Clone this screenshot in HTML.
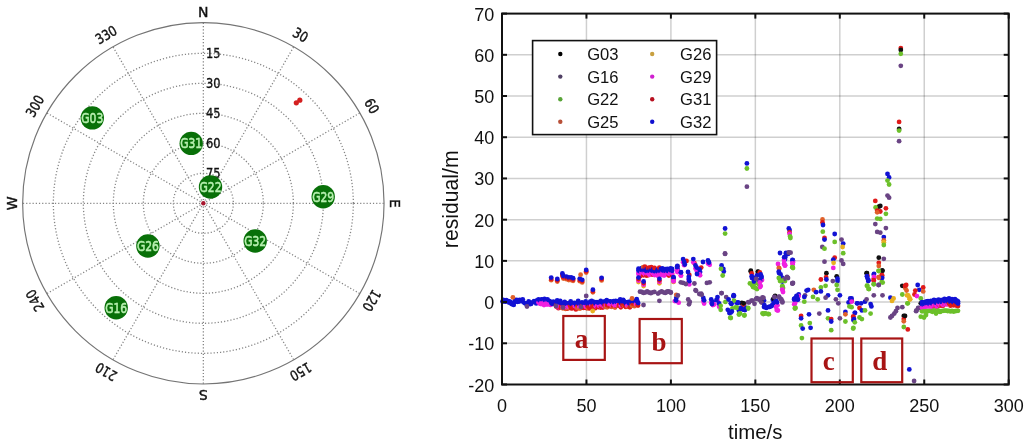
<!DOCTYPE html><html><head><meta charset="utf-8"><style>html,body{margin:0;padding:0;background:#fff;}svg{display:block}</style></head><body>
<svg width="1025" height="442" viewBox="0 0 1025 442">
<rect width="1025" height="442" fill="#fff"/>
<g fill="none" stroke="#858585" stroke-width="1.3" stroke-dasharray="1.2 2">
<circle cx="203.35" cy="203.3" r="30"/>
<circle cx="203.35" cy="203.3" r="60"/>
<circle cx="203.35" cy="203.3" r="90"/>
<circle cx="203.35" cy="203.3" r="120"/>
<circle cx="203.35" cy="203.3" r="150"/>
<line x1="203.35" y1="203.3" x2="203.35" y2="22.60"/>
<line x1="203.35" y1="203.3" x2="293.70" y2="46.81"/>
<line x1="203.35" y1="203.3" x2="359.84" y2="112.95"/>
<line x1="203.35" y1="203.3" x2="384.05" y2="203.30"/>
<line x1="203.35" y1="203.3" x2="359.84" y2="293.65"/>
<line x1="203.35" y1="203.3" x2="293.70" y2="359.79"/>
<line x1="203.35" y1="203.3" x2="203.35" y2="384.00"/>
<line x1="203.35" y1="203.3" x2="113.00" y2="359.79"/>
<line x1="203.35" y1="203.3" x2="46.86" y2="293.65"/>
<line x1="203.35" y1="203.3" x2="22.65" y2="203.30"/>
<line x1="203.35" y1="203.3" x2="46.86" y2="112.95"/>
<line x1="203.35" y1="203.3" x2="113.00" y2="46.81"/>
</g>
<circle cx="203.35" cy="203.3" r="180.7" fill="none" stroke="#747474" stroke-width="1.15"/>
<g font-family="DejaVu Sans, sans-serif" font-size="14" fill="#111" stroke="#111" stroke-width="0.4" text-anchor="middle">
<text x="0" y="4.7" transform="translate(203.35,11.80) rotate(0)">N</text>
<text x="0" y="4.7" textLength="15" lengthAdjust="spacingAndGlyphs" transform="translate(300.45,35.12) rotate(30)">30</text>
<text x="0" y="4.7" textLength="15" lengthAdjust="spacingAndGlyphs" transform="translate(371.53,106.20) rotate(60)">60</text>
<text x="0" y="4.7" transform="translate(394.85,203.30) rotate(90)">E</text>
<text x="0" y="4.7" textLength="22.2" lengthAdjust="spacingAndGlyphs" transform="translate(371.53,300.40) rotate(120)">120</text>
<text x="0" y="4.7" textLength="22.2" lengthAdjust="spacingAndGlyphs" transform="translate(300.45,371.48) rotate(150)">150</text>
<text x="0" y="4.7" transform="translate(203.35,394.80) rotate(180)">S</text>
<text x="0" y="4.7" textLength="22.2" lengthAdjust="spacingAndGlyphs" transform="translate(106.25,371.48) rotate(210)">210</text>
<text x="0" y="4.7" textLength="22.2" lengthAdjust="spacingAndGlyphs" transform="translate(35.17,300.40) rotate(240)">240</text>
<text x="0" y="4.7" transform="translate(11.85,203.30) rotate(270)">W</text>
<text x="0" y="4.7" textLength="22.2" lengthAdjust="spacingAndGlyphs" transform="translate(35.17,106.20) rotate(300)">300</text>
<text x="0" y="4.7" textLength="22.2" lengthAdjust="spacingAndGlyphs" transform="translate(106.25,35.12) rotate(330)">330</text>
</g>
<g font-family="DejaVu Sans, sans-serif" font-size="13.6" fill="#111" stroke="#111" stroke-width="0.35">
<text x="206" y="58.10" textLength="14.5" lengthAdjust="spacingAndGlyphs">15</text>
<text x="206" y="88.10" textLength="14.5" lengthAdjust="spacingAndGlyphs">30</text>
<text x="206" y="118.10" textLength="14.5" lengthAdjust="spacingAndGlyphs">45</text>
<text x="206" y="148.10" textLength="14.5" lengthAdjust="spacingAndGlyphs">60</text>
<text x="206" y="178.10" textLength="14.5" lengthAdjust="spacingAndGlyphs">75</text>
</g>
<circle cx="92.3" cy="117.9" r="11.7" fill="#087008"/>
<circle cx="191.2" cy="143.4" r="11.7" fill="#087008"/>
<circle cx="210.5" cy="187.0" r="11.7" fill="#087008"/>
<circle cx="323.2" cy="196.8" r="11.7" fill="#087008"/>
<circle cx="255.2" cy="241.0" r="11.7" fill="#087008"/>
<circle cx="147.9" cy="246.0" r="11.7" fill="#087008"/>
<circle cx="116.2" cy="307.7" r="11.7" fill="#087008"/>
<g font-family="DejaVu Sans, sans-serif" font-size="14.2" fill="#b8f0b0" stroke="#b8f0b0" stroke-width="0.55" text-anchor="middle">
<text x="92.3" y="122.9" textLength="22" lengthAdjust="spacingAndGlyphs">G03</text>
<text x="191.2" y="148.4" textLength="22" lengthAdjust="spacingAndGlyphs">G31</text>
<text x="210.5" y="192.0" textLength="22" lengthAdjust="spacingAndGlyphs">G22</text>
<text x="323.2" y="201.8" textLength="22" lengthAdjust="spacingAndGlyphs">G29</text>
<text x="255.2" y="246.0" textLength="22" lengthAdjust="spacingAndGlyphs">G32</text>
<text x="147.9" y="251.0" textLength="22" lengthAdjust="spacingAndGlyphs">G26</text>
<text x="116.2" y="312.7" textLength="22" lengthAdjust="spacingAndGlyphs">G16</text>
</g>
<g fill="#d42020"><circle cx="296.3" cy="102.8" r="2.6"/><circle cx="299.8" cy="100.2" r="2.6"/></g>
<circle cx="203.35" cy="203.3" r="2.2" fill="#a81830"/>
<g stroke="#000" stroke-opacity="0.19" stroke-width="1.5">
<line x1="586.45" y1="13.6" x2="586.45" y2="384.5"/>
<line x1="670.90" y1="13.6" x2="670.90" y2="384.5"/>
<line x1="755.35" y1="13.6" x2="755.35" y2="384.5"/>
<line x1="839.80" y1="13.6" x2="839.80" y2="384.5"/>
<line x1="924.25" y1="13.6" x2="924.25" y2="384.5"/>
<line x1="502.0" y1="343.29" x2="1008.7" y2="343.29"/>
<line x1="502.0" y1="302.08" x2="1008.7" y2="302.08"/>
<line x1="502.0" y1="260.87" x2="1008.7" y2="260.87"/>
<line x1="502.0" y1="219.66" x2="1008.7" y2="219.66"/>
<line x1="502.0" y1="178.44" x2="1008.7" y2="178.44"/>
<line x1="502.0" y1="137.23" x2="1008.7" y2="137.23"/>
<line x1="502.0" y1="96.02" x2="1008.7" y2="96.02"/>
<line x1="502.0" y1="54.81" x2="1008.7" y2="54.81"/>
</g>
<g><circle cx="502.5" cy="301.6" r="2.4" fill="#1212d4"/><circle cx="503.2" cy="300.0" r="2.4" fill="#1212d4"/><circle cx="504.0" cy="301.1" r="2.4" fill="#1212d4"/><circle cx="505.5" cy="301.7" r="2.4" fill="#1212d4"/><circle cx="506.2" cy="300.1" r="2.4" fill="#1212d4"/><circle cx="507.0" cy="301.1" r="2.4" fill="#1212d4"/><circle cx="508.5" cy="301.1" r="2.4" fill="#1212d4"/><circle cx="509.2" cy="302.7" r="2.4" fill="#1212d4"/><circle cx="510.0" cy="301.6" r="2.4" fill="#1212d4"/><circle cx="511.5" cy="304.1" r="2.4" fill="#1212d4"/><circle cx="513.0" cy="303.3" r="2.4" fill="#1212d4"/><circle cx="513.7" cy="304.9" r="2.4" fill="#1212d4"/><circle cx="514.5" cy="301.7" r="2.4" fill="#1212d4"/><circle cx="515.2" cy="300.1" r="2.4" fill="#1212d4"/><circle cx="516.0" cy="301.6" r="2.4" fill="#1212d4"/><circle cx="516.7" cy="300.0" r="2.4" fill="#1212d4"/><circle cx="517.5" cy="301.8" r="2.4" fill="#1212d4"/><circle cx="519.0" cy="301.6" r="2.4" fill="#1212d4"/><circle cx="519.7" cy="300.0" r="2.4" fill="#1212d4"/><circle cx="520.5" cy="300.9" r="2.4" fill="#1212d4"/><circle cx="522.0" cy="300.9" r="2.4" fill="#1212d4"/><circle cx="522.7" cy="299.3" r="2.4" fill="#1212d4"/><circle cx="523.5" cy="302.3" r="2.4" fill="#1212d4"/><circle cx="525.0" cy="303.3" r="2.4" fill="#1212d4"/><circle cx="526.5" cy="304.0" r="2.4" fill="#1212d4"/><circle cx="528.0" cy="303.0" r="2.4" fill="#1212d4"/><circle cx="528.7" cy="301.4" r="2.4" fill="#1212d4"/><circle cx="529.5" cy="302.5" r="2.4" fill="#1212d4"/><circle cx="530.2" cy="304.1" r="2.4" fill="#1212d4"/><circle cx="531.0" cy="303.9" r="2.4" fill="#1212d4"/><circle cx="532.5" cy="302.3" r="2.4" fill="#1212d4"/><circle cx="534.0" cy="301.2" r="2.4" fill="#1212d4"/><circle cx="535.5" cy="301.8" r="2.4" fill="#1212d4"/><circle cx="536.2" cy="303.4" r="2.4" fill="#1212d4"/><circle cx="537.0" cy="300.3" r="2.4" fill="#1212d4"/><circle cx="538.5" cy="302.6" r="2.4" fill="#f020e0"/><circle cx="538.5" cy="299.4" r="2.4" fill="#1212d4"/><circle cx="540.0" cy="303.7" r="2.4" fill="#f020e0"/><circle cx="540.0" cy="300.5" r="2.4" fill="#1212d4"/><circle cx="541.5" cy="302.5" r="2.4" fill="#f020e0"/><circle cx="541.5" cy="299.3" r="2.4" fill="#1212d4"/><circle cx="543.0" cy="302.8" r="2.4" fill="#f020e0"/><circle cx="543.0" cy="299.6" r="2.4" fill="#1212d4"/><circle cx="544.5" cy="302.1" r="2.4" fill="#f020e0"/><circle cx="544.5" cy="298.9" r="2.4" fill="#1212d4"/><circle cx="545.2" cy="300.5" r="2.4" fill="#1212d4"/><circle cx="546.0" cy="303.0" r="2.4" fill="#f020e0"/><circle cx="546.0" cy="299.8" r="2.4" fill="#1212d4"/><circle cx="547.5" cy="302.5" r="2.4" fill="#f020e0"/><circle cx="547.5" cy="299.3" r="2.4" fill="#1212d4"/><circle cx="549.0" cy="304.1" r="2.4" fill="#f020e0"/><circle cx="549.0" cy="300.9" r="2.4" fill="#1212d4"/><circle cx="550.5" cy="304.9" r="2.4" fill="#f020e0"/><circle cx="550.5" cy="301.7" r="2.4" fill="#1212d4"/><circle cx="551.2" cy="303.3" r="2.4" fill="#1212d4"/><circle cx="552.0" cy="302.3" r="2.4" fill="#1212d4"/><circle cx="552.7" cy="303.9" r="2.4" fill="#1212d4"/><circle cx="553.5" cy="301.6" r="2.4" fill="#1212d4"/><circle cx="555.0" cy="302.3" r="2.4" fill="#1212d4"/><circle cx="555.7" cy="303.9" r="2.4" fill="#1212d4"/><circle cx="556.2" cy="306.5" r="2.4" fill="#e01a1a"/><circle cx="556.1" cy="305.2" r="2.4" fill="#e01a1a"/><circle cx="556.5" cy="302.0" r="2.4" fill="#1212d4"/><circle cx="557.2" cy="300.4" r="2.4" fill="#1212d4"/><circle cx="558.4" cy="308.2" r="2.4" fill="#e01a1a"/><circle cx="558.5" cy="307.3" r="2.4" fill="#f020e0"/><circle cx="558.0" cy="303.8" r="2.4" fill="#1212d4"/><circle cx="559.2" cy="306.9" r="2.4" fill="#e01a1a"/><circle cx="559.0" cy="306.2" r="2.4" fill="#f020e0"/><circle cx="559.5" cy="302.6" r="2.4" fill="#1212d4"/><circle cx="560.2" cy="301.0" r="2.4" fill="#1212d4"/><circle cx="561.0" cy="307.4" r="2.4" fill="#e01a1a"/><circle cx="561.5" cy="306.1" r="2.4" fill="#e01a1a"/><circle cx="561.0" cy="302.7" r="2.4" fill="#1212d4"/><circle cx="562.7" cy="308.3" r="2.4" fill="#e0602a"/><circle cx="562.8" cy="306.8" r="2.4" fill="#f020e0"/><circle cx="562.5" cy="303.8" r="2.4" fill="#1212d4"/><circle cx="563.9" cy="307.7" r="2.4" fill="#e01a1a"/><circle cx="563.9" cy="306.2" r="2.4" fill="#e01a1a"/><circle cx="564.0" cy="303.5" r="2.4" fill="#1212d4"/><circle cx="564.7" cy="301.9" r="2.4" fill="#1212d4"/><circle cx="565.5" cy="308.9" r="2.4" fill="#e0602a"/><circle cx="565.0" cy="307.4" r="2.4" fill="#e01a1a"/><circle cx="565.5" cy="303.7" r="2.4" fill="#1212d4"/><circle cx="567.5" cy="308.6" r="2.4" fill="#e01a1a"/><circle cx="566.6" cy="307.5" r="2.4" fill="#f020e0"/><circle cx="567.0" cy="303.9" r="2.4" fill="#1212d4"/><circle cx="568.1" cy="308.1" r="2.4" fill="#e0602a"/><circle cx="568.3" cy="306.8" r="2.4" fill="#f020e0"/><circle cx="568.5" cy="303.2" r="2.4" fill="#1212d4"/><circle cx="570.5" cy="307.4" r="2.4" fill="#e0602a"/><circle cx="570.0" cy="305.6" r="2.4" fill="#e01a1a"/><circle cx="570.0" cy="303.0" r="2.4" fill="#1212d4"/><circle cx="570.7" cy="301.4" r="2.4" fill="#1212d4"/><circle cx="571.3" cy="308.4" r="2.4" fill="#e01a1a"/><circle cx="571.4" cy="306.9" r="2.4" fill="#e01a1a"/><circle cx="571.5" cy="304.0" r="2.4" fill="#1212d4"/><circle cx="572.7" cy="308.2" r="2.4" fill="#e01a1a"/><circle cx="573.3" cy="306.8" r="2.4" fill="#e01a1a"/><circle cx="573.0" cy="303.2" r="2.4" fill="#1212d4"/><circle cx="574.5" cy="307.7" r="2.4" fill="#e01a1a"/><circle cx="574.8" cy="306.0" r="2.4" fill="#f020e0"/><circle cx="574.5" cy="302.8" r="2.4" fill="#1212d4"/><circle cx="575.9" cy="309.4" r="2.4" fill="#e01a1a"/><circle cx="576.5" cy="307.3" r="2.4" fill="#f020e0"/><circle cx="576.0" cy="304.2" r="2.4" fill="#1212d4"/><circle cx="576.7" cy="305.8" r="2.4" fill="#1212d4"/><circle cx="577.2" cy="307.4" r="2.4" fill="#e0602a"/><circle cx="577.8" cy="305.8" r="2.4" fill="#e01a1a"/><circle cx="577.5" cy="302.6" r="2.4" fill="#1212d4"/><circle cx="578.2" cy="301.0" r="2.4" fill="#1212d4"/><circle cx="578.6" cy="308.3" r="2.4" fill="#e0602a"/><circle cx="579.3" cy="307.0" r="2.4" fill="#f020e0"/><circle cx="579.0" cy="303.8" r="2.4" fill="#1212d4"/><circle cx="580.1" cy="308.5" r="2.4" fill="#e0602a"/><circle cx="580.4" cy="306.4" r="2.4" fill="#f020e0"/><circle cx="580.5" cy="303.4" r="2.4" fill="#1212d4"/><circle cx="581.6" cy="306.5" r="2.4" fill="#e01a1a"/><circle cx="582.3" cy="305.1" r="2.4" fill="#e01a1a"/><circle cx="582.0" cy="302.4" r="2.4" fill="#1212d4"/><circle cx="583.4" cy="307.9" r="2.4" fill="#e01a1a"/><circle cx="583.0" cy="306.8" r="2.4" fill="#e01a1a"/><circle cx="583.5" cy="303.3" r="2.4" fill="#1212d4"/><circle cx="585.4" cy="307.5" r="2.4" fill="#e01a1a"/><circle cx="585.3" cy="305.8" r="2.4" fill="#f020e0"/><circle cx="585.0" cy="303.0" r="2.4" fill="#1212d4"/><circle cx="585.7" cy="301.4" r="2.4" fill="#1212d4"/><circle cx="586.3" cy="308.0" r="2.4" fill="#e01a1a"/><circle cx="586.1" cy="306.9" r="2.4" fill="#f020e0"/><circle cx="586.5" cy="303.4" r="2.4" fill="#1212d4"/><circle cx="588.0" cy="308.4" r="2.4" fill="#e0602a"/><circle cx="587.6" cy="306.2" r="2.4" fill="#e01a1a"/><circle cx="588.0" cy="303.4" r="2.4" fill="#1212d4"/><circle cx="588.7" cy="305.0" r="2.4" fill="#1212d4"/><circle cx="589.6" cy="308.3" r="2.4" fill="#e01a1a"/><circle cx="589.2" cy="306.5" r="2.4" fill="#e01a1a"/><circle cx="589.5" cy="303.3" r="2.4" fill="#1212d4"/><circle cx="590.2" cy="301.7" r="2.4" fill="#1212d4"/><circle cx="591.0" cy="307.0" r="2.4" fill="#e01a1a"/><circle cx="591.4" cy="305.0" r="2.4" fill="#f020e0"/><circle cx="591.0" cy="302.4" r="2.4" fill="#1212d4"/><circle cx="591.7" cy="300.8" r="2.4" fill="#1212d4"/><circle cx="592.6" cy="307.6" r="2.4" fill="#e01a1a"/><circle cx="592.4" cy="306.0" r="2.4" fill="#e01a1a"/><circle cx="592.5" cy="302.7" r="2.4" fill="#1212d4"/><circle cx="593.8" cy="306.7" r="2.4" fill="#e01a1a"/><circle cx="594.0" cy="304.9" r="2.4" fill="#e01a1a"/><circle cx="594.0" cy="302.0" r="2.4" fill="#1212d4"/><circle cx="595.3" cy="308.2" r="2.4" fill="#e01a1a"/><circle cx="595.8" cy="306.3" r="2.4" fill="#f020e0"/><circle cx="595.5" cy="303.5" r="2.4" fill="#1212d4"/><circle cx="597.2" cy="306.7" r="2.4" fill="#e01a1a"/><circle cx="597.2" cy="305.7" r="2.4" fill="#f020e0"/><circle cx="597.0" cy="302.2" r="2.4" fill="#1212d4"/><circle cx="598.4" cy="307.1" r="2.4" fill="#e01a1a"/><circle cx="599.0" cy="305.7" r="2.4" fill="#f020e0"/><circle cx="598.5" cy="302.8" r="2.4" fill="#1212d4"/><circle cx="600.5" cy="307.5" r="2.4" fill="#e01a1a"/><circle cx="600.2" cy="306.3" r="2.4" fill="#f020e0"/><circle cx="600.0" cy="302.5" r="2.4" fill="#1212d4"/><circle cx="600.7" cy="300.9" r="2.4" fill="#1212d4"/><circle cx="601.1" cy="306.6" r="2.4" fill="#e01a1a"/><circle cx="601.6" cy="305.3" r="2.4" fill="#f020e0"/><circle cx="601.5" cy="302.2" r="2.4" fill="#1212d4"/><circle cx="602.8" cy="307.6" r="2.4" fill="#e01a1a"/><circle cx="603.5" cy="306.0" r="2.4" fill="#f020e0"/><circle cx="603.0" cy="302.4" r="2.4" fill="#1212d4"/><circle cx="603.7" cy="304.0" r="2.4" fill="#1212d4"/><circle cx="604.8" cy="305.8" r="2.4" fill="#e01a1a"/><circle cx="604.8" cy="305.1" r="2.4" fill="#e01a1a"/><circle cx="604.5" cy="301.4" r="2.4" fill="#1212d4"/><circle cx="605.6" cy="306.9" r="2.4" fill="#e0602a"/><circle cx="606.0" cy="304.8" r="2.4" fill="#f020e0"/><circle cx="606.0" cy="301.8" r="2.4" fill="#1212d4"/><circle cx="606.7" cy="300.2" r="2.4" fill="#1212d4"/><circle cx="607.1" cy="307.3" r="2.4" fill="#e0602a"/><circle cx="607.1" cy="305.0" r="2.4" fill="#e01a1a"/><circle cx="607.5" cy="302.1" r="2.4" fill="#1212d4"/><circle cx="609.4" cy="305.9" r="2.4" fill="#e01a1a"/><circle cx="609.5" cy="304.5" r="2.4" fill="#f020e0"/><circle cx="609.0" cy="301.4" r="2.4" fill="#1212d4"/><circle cx="610.7" cy="306.4" r="2.4" fill="#e01a1a"/><circle cx="610.3" cy="304.1" r="2.4" fill="#f020e0"/><circle cx="610.5" cy="301.3" r="2.4" fill="#1212d4"/><circle cx="611.7" cy="306.8" r="2.4" fill="#e0602a"/><circle cx="611.7" cy="305.2" r="2.4" fill="#f020e0"/><circle cx="612.0" cy="302.2" r="2.4" fill="#1212d4"/><circle cx="613.0" cy="305.8" r="2.4" fill="#e01a1a"/><circle cx="613.5" cy="304.1" r="2.4" fill="#f020e0"/><circle cx="613.5" cy="301.2" r="2.4" fill="#1212d4"/><circle cx="614.2" cy="302.8" r="2.4" fill="#1212d4"/><circle cx="615.0" cy="307.5" r="2.4" fill="#e0602a"/><circle cx="614.8" cy="305.3" r="2.4" fill="#f020e0"/><circle cx="615.0" cy="302.4" r="2.4" fill="#1212d4"/><circle cx="615.7" cy="300.8" r="2.4" fill="#1212d4"/><circle cx="616.3" cy="305.9" r="2.4" fill="#e01a1a"/><circle cx="616.0" cy="305.2" r="2.4" fill="#f020e0"/><circle cx="616.5" cy="301.9" r="2.4" fill="#1212d4"/><circle cx="618.2" cy="305.6" r="2.4" fill="#e0602a"/><circle cx="618.2" cy="304.1" r="2.4" fill="#f020e0"/><circle cx="618.0" cy="301.2" r="2.4" fill="#1212d4"/><circle cx="619.2" cy="305.4" r="2.4" fill="#e01a1a"/><circle cx="619.3" cy="304.9" r="2.4" fill="#e01a1a"/><circle cx="619.5" cy="301.1" r="2.4" fill="#1212d4"/><circle cx="620.2" cy="299.5" r="2.4" fill="#1212d4"/><circle cx="620.8" cy="307.3" r="2.4" fill="#e01a1a"/><circle cx="620.8" cy="305.6" r="2.4" fill="#f020e0"/><circle cx="621.0" cy="302.9" r="2.4" fill="#1212d4"/><circle cx="622.5" cy="305.4" r="2.4" fill="#e01a1a"/><circle cx="622.8" cy="304.1" r="2.4" fill="#e01a1a"/><circle cx="622.5" cy="301.4" r="2.4" fill="#1212d4"/><circle cx="623.2" cy="299.8" r="2.4" fill="#1212d4"/><circle cx="624.1" cy="305.6" r="2.4" fill="#e0602a"/><circle cx="624.4" cy="304.3" r="2.4" fill="#e01a1a"/><circle cx="624.0" cy="301.5" r="2.4" fill="#1212d4"/><circle cx="625.8" cy="306.9" r="2.4" fill="#e01a1a"/><circle cx="625.1" cy="305.6" r="2.4" fill="#e01a1a"/><circle cx="625.5" cy="302.1" r="2.4" fill="#1212d4"/><circle cx="626.2" cy="303.7" r="2.4" fill="#1212d4"/><circle cx="627.3" cy="306.5" r="2.4" fill="#e0602a"/><circle cx="627.3" cy="305.6" r="2.4" fill="#f020e0"/><circle cx="627.0" cy="302.3" r="2.4" fill="#1212d4"/><circle cx="628.9" cy="306.8" r="2.4" fill="#e0602a"/><circle cx="628.6" cy="304.7" r="2.4" fill="#f020e0"/><circle cx="628.5" cy="302.0" r="2.4" fill="#1212d4"/><circle cx="629.2" cy="303.6" r="2.4" fill="#1212d4"/><circle cx="629.9" cy="307.3" r="2.4" fill="#e01a1a"/><circle cx="630.1" cy="306.1" r="2.4" fill="#e01a1a"/><circle cx="630.0" cy="302.7" r="2.4" fill="#1212d4"/><circle cx="630.7" cy="304.3" r="2.4" fill="#1212d4"/><circle cx="631.8" cy="305.6" r="2.4" fill="#e0602a"/><circle cx="631.9" cy="303.5" r="2.4" fill="#e01a1a"/><circle cx="631.5" cy="300.7" r="2.4" fill="#1212d4"/><circle cx="632.2" cy="302.3" r="2.4" fill="#1212d4"/><circle cx="632.6" cy="305.5" r="2.4" fill="#e0602a"/><circle cx="633.3" cy="304.1" r="2.4" fill="#e01a1a"/><circle cx="633.0" cy="301.2" r="2.4" fill="#1212d4"/><circle cx="634.4" cy="306.2" r="2.4" fill="#e0602a"/><circle cx="634.3" cy="304.3" r="2.4" fill="#e01a1a"/><circle cx="634.5" cy="301.6" r="2.4" fill="#1212d4"/><circle cx="635.6" cy="305.0" r="2.4" fill="#e0602a"/><circle cx="636.2" cy="304.0" r="2.4" fill="#f020e0"/><circle cx="636.0" cy="300.7" r="2.4" fill="#1212d4"/><circle cx="636.7" cy="299.1" r="2.4" fill="#1212d4"/><circle cx="638.0" cy="305.6" r="2.4" fill="#e01a1a"/><circle cx="637.7" cy="304.4" r="2.4" fill="#e01a1a"/><circle cx="637.5" cy="301.5" r="2.4" fill="#1212d4"/><circle cx="638.2" cy="303.1" r="2.4" fill="#1212d4"/><circle cx="512.9" cy="297.3" r="2.4" fill="#e0602a"/><circle cx="541.0" cy="304.0" r="2.4" fill="#f020e0"/><circle cx="544.0" cy="305.0" r="2.4" fill="#f020e0"/><circle cx="547.0" cy="304.5" r="2.4" fill="#f020e0"/><circle cx="563.0" cy="307.5" r="2.4" fill="#6a4484"/><circle cx="581.0" cy="307.0" r="2.4" fill="#6a4484"/><circle cx="556.0" cy="306.0" r="2.4" fill="#6a4484"/><circle cx="527.0" cy="306.5" r="2.4" fill="#6a4484"/><circle cx="632.0" cy="298.5" r="2.4" fill="#e0602a"/><circle cx="551.2" cy="280.2" r="2.4" fill="#e0602a"/><circle cx="551.2" cy="278.9" r="2.4" fill="#e01a1a"/><circle cx="551.2" cy="277.6" r="2.4" fill="#1212d4"/><circle cx="557.3" cy="281.6" r="2.4" fill="#e0602a"/><circle cx="557.3" cy="280.3" r="2.4" fill="#e01a1a"/><circle cx="557.3" cy="279.0" r="2.4" fill="#1212d4"/><circle cx="562.4" cy="276.1" r="2.4" fill="#e0602a"/><circle cx="562.4" cy="274.8" r="2.4" fill="#e01a1a"/><circle cx="562.4" cy="273.5" r="2.4" fill="#1212d4"/><circle cx="563.4" cy="278.5" r="2.4" fill="#e0602a"/><circle cx="563.4" cy="277.2" r="2.4" fill="#e01a1a"/><circle cx="563.4" cy="275.9" r="2.4" fill="#1212d4"/><circle cx="566.4" cy="279.2" r="2.4" fill="#e0602a"/><circle cx="566.4" cy="277.9" r="2.4" fill="#e01a1a"/><circle cx="566.4" cy="276.6" r="2.4" fill="#1212d4"/><circle cx="568.8" cy="280.0" r="2.4" fill="#e0602a"/><circle cx="568.8" cy="278.7" r="2.4" fill="#e01a1a"/><circle cx="568.8" cy="277.4" r="2.4" fill="#1212d4"/><circle cx="571.1" cy="280.0" r="2.4" fill="#e0602a"/><circle cx="571.1" cy="278.7" r="2.4" fill="#e01a1a"/><circle cx="571.1" cy="277.4" r="2.4" fill="#1212d4"/><circle cx="573.1" cy="280.8" r="2.4" fill="#e0602a"/><circle cx="573.1" cy="279.5" r="2.4" fill="#e01a1a"/><circle cx="573.1" cy="278.2" r="2.4" fill="#1212d4"/><circle cx="579.8" cy="281.2" r="2.4" fill="#e0602a"/><circle cx="579.8" cy="279.9" r="2.4" fill="#e01a1a"/><circle cx="579.8" cy="278.6" r="2.4" fill="#1212d4"/><circle cx="582.2" cy="282.4" r="2.4" fill="#e0602a"/><circle cx="582.2" cy="281.1" r="2.4" fill="#e01a1a"/><circle cx="582.2" cy="279.8" r="2.4" fill="#1212d4"/><circle cx="586.2" cy="272.5" r="2.4" fill="#e0602a"/><circle cx="586.2" cy="271.2" r="2.4" fill="#e01a1a"/><circle cx="586.2" cy="269.9" r="2.4" fill="#1212d4"/><circle cx="601.6" cy="280.4" r="2.4" fill="#e0602a"/><circle cx="601.6" cy="279.1" r="2.4" fill="#e01a1a"/><circle cx="601.6" cy="277.8" r="2.4" fill="#1212d4"/><circle cx="592.9" cy="292.3" r="2.4" fill="#e0602a"/><circle cx="592.9" cy="291.0" r="2.4" fill="#e01a1a"/><circle cx="592.9" cy="289.7" r="2.4" fill="#1212d4"/><circle cx="580.6" cy="274.7" r="2.4" fill="#e0602a"/><circle cx="586.2" cy="296.0" r="2.4" fill="#6a4484"/><circle cx="592.7" cy="311.0" r="2.4" fill="#e8b020"/><circle cx="638.5" cy="274.1" r="2.4" fill="#f020e0"/><circle cx="638.5" cy="272.9" r="2.4" fill="#f020e0"/><circle cx="638.5" cy="270.5" r="2.4" fill="#1212d4"/><circle cx="638.5" cy="268.7" r="2.4" fill="#1212d4"/><circle cx="640.1" cy="276.3" r="2.4" fill="#e01a1a"/><circle cx="640.1" cy="273.8" r="2.4" fill="#f020e0"/><circle cx="640.1" cy="271.4" r="2.4" fill="#1212d4"/><circle cx="640.1" cy="269.6" r="2.4" fill="#1212d4"/><circle cx="641.7" cy="274.1" r="2.4" fill="#f020e0"/><circle cx="641.7" cy="272.3" r="2.4" fill="#f020e0"/><circle cx="641.7" cy="269.9" r="2.4" fill="#1212d4"/><circle cx="641.7" cy="268.1" r="2.4" fill="#1212d4"/><circle cx="643.3" cy="275.3" r="2.4" fill="#e01a1a"/><circle cx="643.3" cy="272.8" r="2.4" fill="#f020e0"/><circle cx="643.3" cy="270.4" r="2.4" fill="#1212d4"/><circle cx="643.3" cy="268.6" r="2.4" fill="#1212d4"/><circle cx="643.3" cy="267.1" r="2.4" fill="#e0602a"/><circle cx="644.9" cy="274.3" r="2.4" fill="#f020e0"/><circle cx="644.9" cy="272.4" r="2.4" fill="#f020e0"/><circle cx="644.9" cy="270.0" r="2.4" fill="#1212d4"/><circle cx="644.9" cy="268.2" r="2.4" fill="#1212d4"/><circle cx="644.9" cy="266.7" r="2.4" fill="#e01a1a"/><circle cx="646.5" cy="275.7" r="2.4" fill="#e01a1a"/><circle cx="646.5" cy="273.6" r="2.4" fill="#f020e0"/><circle cx="646.5" cy="271.2" r="2.4" fill="#1212d4"/><circle cx="646.5" cy="269.4" r="2.4" fill="#1212d4"/><circle cx="648.1" cy="275.2" r="2.4" fill="#e01a1a"/><circle cx="648.1" cy="273.6" r="2.4" fill="#f020e0"/><circle cx="648.1" cy="271.2" r="2.4" fill="#1212d4"/><circle cx="648.1" cy="269.4" r="2.4" fill="#1212d4"/><circle cx="648.1" cy="267.9" r="2.4" fill="#e01a1a"/><circle cx="649.7" cy="274.9" r="2.4" fill="#f020e0"/><circle cx="649.7" cy="273.3" r="2.4" fill="#f020e0"/><circle cx="649.7" cy="270.9" r="2.4" fill="#1212d4"/><circle cx="649.7" cy="269.1" r="2.4" fill="#1212d4"/><circle cx="649.7" cy="267.6" r="2.4" fill="#e01a1a"/><circle cx="651.3" cy="274.0" r="2.4" fill="#f020e0"/><circle cx="651.3" cy="272.8" r="2.4" fill="#f020e0"/><circle cx="651.3" cy="270.4" r="2.4" fill="#1212d4"/><circle cx="651.3" cy="268.6" r="2.4" fill="#1212d4"/><circle cx="651.3" cy="267.1" r="2.4" fill="#e01a1a"/><circle cx="652.9" cy="274.7" r="2.4" fill="#e01a1a"/><circle cx="652.9" cy="273.5" r="2.4" fill="#f020e0"/><circle cx="652.9" cy="271.1" r="2.4" fill="#1212d4"/><circle cx="652.9" cy="269.3" r="2.4" fill="#1212d4"/><circle cx="654.5" cy="275.1" r="2.4" fill="#f020e0"/><circle cx="654.5" cy="273.6" r="2.4" fill="#f020e0"/><circle cx="654.5" cy="271.2" r="2.4" fill="#1212d4"/><circle cx="654.5" cy="269.4" r="2.4" fill="#1212d4"/><circle cx="654.5" cy="267.9" r="2.4" fill="#e01a1a"/><circle cx="657.7" cy="275.7" r="2.4" fill="#f020e0"/><circle cx="657.7" cy="273.8" r="2.4" fill="#f020e0"/><circle cx="657.7" cy="271.4" r="2.4" fill="#1212d4"/><circle cx="657.7" cy="269.6" r="2.4" fill="#1212d4"/><circle cx="659.3" cy="275.8" r="2.4" fill="#f020e0"/><circle cx="659.3" cy="273.4" r="2.4" fill="#f020e0"/><circle cx="659.3" cy="271.0" r="2.4" fill="#1212d4"/><circle cx="659.3" cy="269.2" r="2.4" fill="#1212d4"/><circle cx="659.3" cy="267.7" r="2.4" fill="#e01a1a"/><circle cx="660.9" cy="274.5" r="2.4" fill="#f020e0"/><circle cx="660.9" cy="273.2" r="2.4" fill="#f020e0"/><circle cx="660.9" cy="270.8" r="2.4" fill="#1212d4"/><circle cx="660.9" cy="269.0" r="2.4" fill="#1212d4"/><circle cx="662.5" cy="274.9" r="2.4" fill="#f020e0"/><circle cx="662.5" cy="272.7" r="2.4" fill="#f020e0"/><circle cx="662.5" cy="270.3" r="2.4" fill="#1212d4"/><circle cx="662.5" cy="268.5" r="2.4" fill="#1212d4"/><circle cx="664.1" cy="275.5" r="2.4" fill="#f020e0"/><circle cx="664.1" cy="273.5" r="2.4" fill="#f020e0"/><circle cx="664.1" cy="271.1" r="2.4" fill="#1212d4"/><circle cx="664.1" cy="269.3" r="2.4" fill="#1212d4"/><circle cx="665.7" cy="274.4" r="2.4" fill="#f020e0"/><circle cx="665.7" cy="273.4" r="2.4" fill="#f020e0"/><circle cx="665.7" cy="271.0" r="2.4" fill="#1212d4"/><circle cx="665.7" cy="269.2" r="2.4" fill="#1212d4"/><circle cx="667.3" cy="274.4" r="2.4" fill="#f020e0"/><circle cx="667.3" cy="273.2" r="2.4" fill="#f020e0"/><circle cx="667.3" cy="270.8" r="2.4" fill="#1212d4"/><circle cx="667.3" cy="269.0" r="2.4" fill="#1212d4"/><circle cx="668.9" cy="275.5" r="2.4" fill="#e01a1a"/><circle cx="668.9" cy="273.7" r="2.4" fill="#f020e0"/><circle cx="668.9" cy="271.3" r="2.4" fill="#1212d4"/><circle cx="668.9" cy="269.5" r="2.4" fill="#1212d4"/><circle cx="670.5" cy="274.2" r="2.4" fill="#f020e0"/><circle cx="670.5" cy="272.7" r="2.4" fill="#f020e0"/><circle cx="670.5" cy="270.3" r="2.4" fill="#1212d4"/><circle cx="670.5" cy="268.5" r="2.4" fill="#1212d4"/><circle cx="672.1" cy="274.9" r="2.4" fill="#e01a1a"/><circle cx="672.1" cy="273.2" r="2.4" fill="#f020e0"/><circle cx="672.1" cy="270.8" r="2.4" fill="#1212d4"/><circle cx="672.1" cy="269.0" r="2.4" fill="#1212d4"/><circle cx="638.5" cy="282.1" r="2.4" fill="#e8b020"/><circle cx="638.5" cy="280.6" r="2.4" fill="#f020e0"/><circle cx="638.5" cy="279.1" r="2.4" fill="#e01a1a"/><circle cx="638.5" cy="277.6" r="2.4" fill="#1212d4"/><circle cx="643.6" cy="286.0" r="2.4" fill="#e8b020"/><circle cx="643.6" cy="284.5" r="2.4" fill="#f020e0"/><circle cx="643.6" cy="283.0" r="2.4" fill="#e01a1a"/><circle cx="643.6" cy="281.5" r="2.4" fill="#1212d4"/><circle cx="659.4" cy="283.3" r="2.4" fill="#e8b020"/><circle cx="659.4" cy="281.8" r="2.4" fill="#f020e0"/><circle cx="659.4" cy="280.3" r="2.4" fill="#e01a1a"/><circle cx="659.4" cy="278.8" r="2.4" fill="#1212d4"/><circle cx="673.5" cy="281.9" r="2.4" fill="#e8b020"/><circle cx="673.5" cy="280.4" r="2.4" fill="#f020e0"/><circle cx="673.5" cy="278.9" r="2.4" fill="#e01a1a"/><circle cx="673.5" cy="277.4" r="2.4" fill="#1212d4"/><circle cx="640.0" cy="291.7" r="2.4" fill="#6a4484"/><circle cx="641.8" cy="292.0" r="2.4" fill="#6a4484"/><circle cx="643.6" cy="292.9" r="2.4" fill="#6a4484"/><circle cx="645.4" cy="292.4" r="2.4" fill="#6a4484"/><circle cx="647.2" cy="291.4" r="2.4" fill="#6a4484"/><circle cx="649.0" cy="292.5" r="2.4" fill="#6a4484"/><circle cx="650.8" cy="293.2" r="2.4" fill="#6a4484"/><circle cx="652.6" cy="292.3" r="2.4" fill="#6a4484"/><circle cx="654.4" cy="291.9" r="2.4" fill="#6a4484"/><circle cx="658.0" cy="293.6" r="2.4" fill="#6a4484"/><circle cx="659.8" cy="292.3" r="2.4" fill="#6a4484"/><circle cx="661.6" cy="291.3" r="2.4" fill="#6a4484"/><circle cx="663.4" cy="292.3" r="2.4" fill="#6a4484"/><circle cx="665.2" cy="292.9" r="2.4" fill="#6a4484"/><circle cx="667.0" cy="292.1" r="2.4" fill="#6a4484"/><circle cx="668.8" cy="291.3" r="2.4" fill="#6a4484"/><circle cx="670.6" cy="292.5" r="2.4" fill="#6a4484"/><circle cx="643.5" cy="305.0" r="2.4" fill="#6a4484"/><circle cx="659.4" cy="300.8" r="2.4" fill="#6a4484"/><circle cx="667.3" cy="291.4" r="2.4" fill="#6a4484"/><circle cx="686.5" cy="261.0" r="2.4" fill="#e01a1a"/><circle cx="694.4" cy="263.1" r="2.4" fill="#e01a1a"/><circle cx="701.2" cy="267.6" r="2.4" fill="#e01a1a"/><circle cx="689.3" cy="275.0" r="2.4" fill="#e01a1a"/><circle cx="677.4" cy="266.5" r="2.4" fill="#e01a1a"/><circle cx="677.4" cy="269.2" r="2.4" fill="#f020e0"/><circle cx="677.4" cy="266.0" r="2.4" fill="#1212d4"/><circle cx="677.4" cy="272.0" r="2.4" fill="#f020e0"/><circle cx="677.4" cy="268.8" r="2.4" fill="#1212d4"/><circle cx="680.8" cy="275.3" r="2.4" fill="#f020e0"/><circle cx="680.8" cy="272.1" r="2.4" fill="#1212d4"/><circle cx="683.1" cy="262.3" r="2.4" fill="#f020e0"/><circle cx="683.1" cy="259.1" r="2.4" fill="#1212d4"/><circle cx="684.2" cy="265.2" r="2.4" fill="#f020e0"/><circle cx="684.2" cy="262.0" r="2.4" fill="#1212d4"/><circle cx="693.3" cy="262.3" r="2.4" fill="#f020e0"/><circle cx="693.3" cy="259.1" r="2.4" fill="#1212d4"/><circle cx="695.5" cy="268.6" r="2.4" fill="#f020e0"/><circle cx="695.5" cy="265.4" r="2.4" fill="#1212d4"/><circle cx="696.7" cy="270.8" r="2.4" fill="#f020e0"/><circle cx="696.7" cy="267.6" r="2.4" fill="#1212d4"/><circle cx="699.5" cy="272.5" r="2.4" fill="#f020e0"/><circle cx="699.5" cy="269.3" r="2.4" fill="#1212d4"/><circle cx="700.1" cy="275.3" r="2.4" fill="#f020e0"/><circle cx="700.1" cy="272.1" r="2.4" fill="#1212d4"/><circle cx="708.0" cy="263.5" r="2.4" fill="#f020e0"/><circle cx="708.0" cy="260.3" r="2.4" fill="#1212d4"/><circle cx="688.8" cy="279.9" r="2.4" fill="#f020e0"/><circle cx="688.8" cy="276.7" r="2.4" fill="#1212d4"/><circle cx="688.8" cy="282.1" r="2.4" fill="#f020e0"/><circle cx="688.8" cy="278.9" r="2.4" fill="#1212d4"/><circle cx="689.3" cy="284.4" r="2.4" fill="#f020e0"/><circle cx="689.3" cy="281.2" r="2.4" fill="#1212d4"/><circle cx="673.5" cy="280.7" r="2.4" fill="#f020e0"/><circle cx="673.5" cy="277.5" r="2.4" fill="#1212d4"/><circle cx="676.3" cy="301.1" r="2.4" fill="#f020e0"/><circle cx="676.3" cy="297.9" r="2.4" fill="#1212d4"/><circle cx="703.3" cy="301.1" r="2.4" fill="#f020e0"/><circle cx="703.3" cy="297.9" r="2.4" fill="#1212d4"/><circle cx="704.1" cy="303.5" r="2.4" fill="#f020e0"/><circle cx="704.1" cy="300.3" r="2.4" fill="#1212d4"/><circle cx="711.2" cy="302.7" r="2.4" fill="#f020e0"/><circle cx="711.2" cy="299.5" r="2.4" fill="#1212d4"/><circle cx="712.8" cy="305.1" r="2.4" fill="#f020e0"/><circle cx="712.8" cy="301.9" r="2.4" fill="#1212d4"/><circle cx="717.5" cy="300.3" r="2.4" fill="#f020e0"/><circle cx="717.5" cy="297.1" r="2.4" fill="#1212d4"/><circle cx="719.1" cy="306.7" r="2.4" fill="#f020e0"/><circle cx="719.1" cy="303.5" r="2.4" fill="#1212d4"/><circle cx="677.0" cy="270.2" r="2.4" fill="#f020e0"/><circle cx="677.0" cy="267.0" r="2.4" fill="#1212d4"/><circle cx="681.0" cy="275.7" r="2.4" fill="#f020e0"/><circle cx="681.0" cy="272.5" r="2.4" fill="#1212d4"/><circle cx="676.3" cy="294.8" r="2.4" fill="#e0602a"/><circle cx="673.5" cy="281.3" r="2.4" fill="#f020e0"/><circle cx="674.8" cy="301.1" r="2.4" fill="#f020e0"/><circle cx="678.7" cy="302.7" r="2.4" fill="#f020e0"/><circle cx="714.3" cy="304.3" r="2.4" fill="#f020e0"/><circle cx="699.5" cy="274.4" r="2.4" fill="#f020e0"/><circle cx="709.7" cy="264.8" r="2.4" fill="#f020e0"/><circle cx="684.8" cy="264.5" r="2.4" fill="#1212d4"/><circle cx="697.0" cy="274.0" r="2.4" fill="#1212d4"/><circle cx="688.0" cy="272.0" r="2.4" fill="#1212d4"/><circle cx="703.0" cy="262.0" r="2.4" fill="#1212d4"/><circle cx="709.0" cy="262.5" r="2.4" fill="#1212d4"/><circle cx="676.0" cy="300.5" r="2.4" fill="#1212d4"/><circle cx="712.0" cy="304.0" r="2.4" fill="#1212d4"/><circle cx="716.5" cy="300.0" r="2.4" fill="#1212d4"/><circle cx="680.8" cy="282.3" r="2.4" fill="#6a4484"/><circle cx="683.1" cy="282.9" r="2.4" fill="#6a4484"/><circle cx="685.9" cy="284.0" r="2.4" fill="#6a4484"/><circle cx="694.4" cy="283.5" r="2.4" fill="#6a4484"/><circle cx="706.9" cy="282.9" r="2.4" fill="#6a4484"/><circle cx="709.7" cy="282.3" r="2.4" fill="#6a4484"/><circle cx="688.2" cy="299.5" r="2.4" fill="#6a4484"/><circle cx="689.8" cy="301.9" r="2.4" fill="#6a4484"/><circle cx="689.0" cy="304.3" r="2.4" fill="#6a4484"/><circle cx="696.1" cy="290.8" r="2.4" fill="#6a4484"/><circle cx="699.3" cy="294.0" r="2.4" fill="#6a4484"/><circle cx="701.7" cy="294.8" r="2.4" fill="#6a4484"/><circle cx="721.5" cy="293.2" r="2.4" fill="#6a4484"/><circle cx="726.2" cy="297.1" r="2.4" fill="#6a4484"/><circle cx="725.0" cy="253.5" r="2.4" fill="#6a4484"/><circle cx="695.5" cy="290.2" r="2.4" fill="#6a4484"/><circle cx="701.2" cy="293.6" r="2.4" fill="#6a4484"/><circle cx="721.6" cy="293.1" r="2.4" fill="#6a4484"/><circle cx="670.8" cy="292.4" r="2.4" fill="#6a4484"/><circle cx="677.9" cy="295.5" r="2.4" fill="#6a4484"/><circle cx="721.6" cy="265.4" r="2.4" fill="#1212d4"/><circle cx="723.3" cy="268.8" r="2.4" fill="#1212d4"/><circle cx="723.8" cy="271.6" r="2.4" fill="#1212d4"/><circle cx="725.1" cy="228.5" r="2.4" fill="#1212d4"/><circle cx="721.0" cy="268.8" r="2.4" fill="#6cc02a"/><circle cx="722.7" cy="275.5" r="2.4" fill="#6cc02a"/><circle cx="725.1" cy="233.6" r="2.4" fill="#6cc02a"/><circle cx="720.7" cy="305.8" r="2.4" fill="#6cc02a"/><circle cx="720.7" cy="309.8" r="2.4" fill="#6cc02a"/><circle cx="725.4" cy="301.9" r="2.4" fill="#6cc02a"/><circle cx="730.2" cy="317.7" r="2.4" fill="#6cc02a"/><circle cx="735.7" cy="307.4" r="2.4" fill="#6cc02a"/><circle cx="738.9" cy="314.5" r="2.4" fill="#6cc02a"/><circle cx="725.1" cy="253.8" r="2.4" fill="#6a4484"/><circle cx="728.6" cy="299.5" r="2.4" fill="#1212d4"/><circle cx="731.0" cy="303.5" r="2.4" fill="#1212d4"/><circle cx="727.8" cy="309.8" r="2.4" fill="#1212d4"/><circle cx="729.4" cy="313.0" r="2.4" fill="#1212d4"/><circle cx="733.4" cy="296.3" r="2.4" fill="#1212d4"/><circle cx="736.5" cy="302.7" r="2.4" fill="#1212d4"/><circle cx="738.9" cy="310.6" r="2.4" fill="#1212d4"/><circle cx="746.9" cy="163.4" r="2.4" fill="#1212d4"/><circle cx="746.9" cy="168.5" r="2.4" fill="#6cc02a"/><circle cx="746.9" cy="186.7" r="2.4" fill="#6a4484"/><circle cx="750.8" cy="271.6" r="2.4" fill="#101010"/><circle cx="758.0" cy="272.0" r="2.4" fill="#101010"/><circle cx="752.0" cy="278.0" r="2.4" fill="#1212d4"/><circle cx="761.0" cy="276.0" r="2.4" fill="#1212d4"/><circle cx="756.0" cy="283.0" r="2.4" fill="#6cc02a"/><circle cx="752.0" cy="285.0" r="2.4" fill="#6cc02a"/><circle cx="757.0" cy="289.0" r="2.4" fill="#6cc02a"/><circle cx="762.0" cy="280.0" r="2.4" fill="#f020e0"/><circle cx="760.0" cy="287.0" r="2.4" fill="#f020e0"/><circle cx="734.0" cy="295.8" r="2.4" fill="#1212d4"/><circle cx="731.6" cy="303.8" r="2.4" fill="#1212d4"/><circle cx="730.8" cy="312.5" r="2.4" fill="#1212d4"/><circle cx="737.9" cy="303.0" r="2.4" fill="#1212d4"/><circle cx="741.1" cy="307.7" r="2.4" fill="#1212d4"/><circle cx="742.7" cy="309.3" r="2.4" fill="#1212d4"/><circle cx="745.0" cy="310.1" r="2.4" fill="#1212d4"/><circle cx="764.0" cy="300.6" r="2.4" fill="#1212d4"/><circle cx="764.0" cy="306.9" r="2.4" fill="#1212d4"/><circle cx="766.4" cy="307.7" r="2.4" fill="#1212d4"/><circle cx="769.6" cy="306.9" r="2.4" fill="#1212d4"/><circle cx="772.8" cy="299.8" r="2.4" fill="#1212d4"/><circle cx="775.9" cy="300.6" r="2.4" fill="#1212d4"/><circle cx="773.6" cy="303.0" r="2.4" fill="#1212d4"/><circle cx="772.0" cy="305.3" r="2.4" fill="#1212d4"/><circle cx="794.1" cy="299.0" r="2.4" fill="#1212d4"/><circle cx="796.5" cy="295.8" r="2.4" fill="#1212d4"/><circle cx="753.8" cy="281.6" r="2.4" fill="#1212d4"/><circle cx="760.1" cy="280.8" r="2.4" fill="#1212d4"/><circle cx="782.3" cy="281.6" r="2.4" fill="#1212d4"/><circle cx="730.8" cy="318.0" r="2.4" fill="#6cc02a"/><circle cx="734.0" cy="300.6" r="2.4" fill="#6cc02a"/><circle cx="732.4" cy="308.5" r="2.4" fill="#6cc02a"/><circle cx="739.5" cy="314.0" r="2.4" fill="#6cc02a"/><circle cx="744.3" cy="315.6" r="2.4" fill="#6cc02a"/><circle cx="748.2" cy="308.5" r="2.4" fill="#6cc02a"/><circle cx="737.1" cy="307.7" r="2.4" fill="#6cc02a"/><circle cx="764.8" cy="313.3" r="2.4" fill="#6cc02a"/><circle cx="768.0" cy="314.0" r="2.4" fill="#6cc02a"/><circle cx="763.3" cy="314.0" r="2.4" fill="#6cc02a"/><circle cx="794.9" cy="308.5" r="2.4" fill="#6cc02a"/><circle cx="753.0" cy="287.1" r="2.4" fill="#6cc02a"/><circle cx="782.3" cy="286.3" r="2.4" fill="#6cc02a"/><circle cx="741.9" cy="303.0" r="2.4" fill="#101010"/><circle cx="761.7" cy="302.2" r="2.4" fill="#101010"/><circle cx="775.1" cy="295.8" r="2.4" fill="#101010"/><circle cx="744.3" cy="303.8" r="2.4" fill="#6a4484"/><circle cx="748.2" cy="302.2" r="2.4" fill="#6a4484"/><circle cx="751.4" cy="300.6" r="2.4" fill="#6a4484"/><circle cx="754.5" cy="303.8" r="2.4" fill="#6a4484"/><circle cx="756.9" cy="298.2" r="2.4" fill="#6a4484"/><circle cx="759.3" cy="299.8" r="2.4" fill="#6a4484"/><circle cx="762.5" cy="297.4" r="2.4" fill="#6a4484"/><circle cx="779.1" cy="296.6" r="2.4" fill="#6a4484"/><circle cx="780.7" cy="299.0" r="2.4" fill="#6a4484"/><circle cx="782.3" cy="301.4" r="2.4" fill="#6a4484"/><circle cx="792.6" cy="283.2" r="2.4" fill="#6a4484"/><circle cx="777.5" cy="305.3" r="2.4" fill="#f020e0"/><circle cx="776.7" cy="310.1" r="2.4" fill="#f020e0"/><circle cx="794.9" cy="303.8" r="2.4" fill="#f020e0"/><circle cx="760.1" cy="285.5" r="2.4" fill="#f020e0"/><circle cx="782.3" cy="289.5" r="2.4" fill="#f020e0"/><circle cx="788.8" cy="228.5" r="2.4" fill="#1212d4"/><circle cx="789.6" cy="230.1" r="2.4" fill="#1212d4"/><circle cx="789.6" cy="232.5" r="2.4" fill="#e01a1a"/><circle cx="789.6" cy="234.0" r="2.4" fill="#f020e0"/><circle cx="790.1" cy="236.4" r="2.4" fill="#6cc02a"/><circle cx="790.4" cy="238.0" r="2.4" fill="#6cc02a"/><circle cx="788.8" cy="252.3" r="2.4" fill="#6a4484"/><circle cx="788.1" cy="253.8" r="2.4" fill="#1212d4"/><circle cx="785.4" cy="257.0" r="2.4" fill="#1212d4"/><circle cx="784.9" cy="259.4" r="2.4" fill="#1212d4"/><circle cx="792.8" cy="260.2" r="2.4" fill="#1212d4"/><circle cx="792.8" cy="262.6" r="2.4" fill="#f020e0"/><circle cx="792.8" cy="264.1" r="2.4" fill="#f020e0"/><circle cx="784.1" cy="264.1" r="2.4" fill="#f020e0"/><circle cx="784.9" cy="265.7" r="2.4" fill="#f020e0"/><circle cx="792.3" cy="267.3" r="2.4" fill="#6cc02a"/><circle cx="779.3" cy="268.4" r="2.4" fill="#e0602a"/><circle cx="780.0" cy="253.0" r="2.4" fill="#1212d4"/><circle cx="786.0" cy="253.0" r="2.4" fill="#1212d4"/><circle cx="784.0" cy="260.0" r="2.4" fill="#f020e0"/><circle cx="778.0" cy="264.0" r="2.4" fill="#f020e0"/><circle cx="779.0" cy="273.0" r="2.4" fill="#1212d4"/><circle cx="782.0" cy="278.0" r="2.4" fill="#1212d4"/><circle cx="788.0" cy="278.0" r="2.4" fill="#6a4484"/><circle cx="785.0" cy="281.0" r="2.4" fill="#6cc02a"/><circle cx="780.0" cy="281.0" r="2.4" fill="#6cc02a"/><circle cx="793.0" cy="268.0" r="2.4" fill="#6cc02a"/><circle cx="783.0" cy="288.0" r="2.4" fill="#6cc02a"/><circle cx="793.0" cy="262.0" r="2.4" fill="#f020e0"/><circle cx="783.0" cy="292.0" r="2.4" fill="#f020e0"/><circle cx="793.0" cy="283.0" r="2.4" fill="#6a4484"/><circle cx="822.5" cy="219.5" r="2.4" fill="#e0602a"/><circle cx="822.5" cy="222.5" r="2.4" fill="#e01a1a"/><circle cx="823.0" cy="225.0" r="2.4" fill="#1212d4"/><circle cx="822.8" cy="231.7" r="2.4" fill="#6cc02a"/><circle cx="824.5" cy="237.9" r="2.4" fill="#e01a1a"/><circle cx="824.5" cy="239.6" r="2.4" fill="#1212d4"/><circle cx="822.3" cy="247.0" r="2.4" fill="#6a4484"/><circle cx="824.5" cy="248.7" r="2.4" fill="#6cc02a"/><circle cx="824.5" cy="261.7" r="2.4" fill="#6a4484"/><circle cx="834.7" cy="234.0" r="2.4" fill="#1212d4"/><circle cx="834.7" cy="241.9" r="2.4" fill="#6cc02a"/><circle cx="841.5" cy="239.6" r="2.4" fill="#6a4484"/><circle cx="843.2" cy="243.6" r="2.4" fill="#1212d4"/><circle cx="842.6" cy="247.0" r="2.4" fill="#e8b020"/><circle cx="843.2" cy="253.2" r="2.4" fill="#6cc02a"/><circle cx="834.7" cy="257.7" r="2.4" fill="#e01a1a"/><circle cx="833.3" cy="259.6" r="2.4" fill="#1212d4"/><circle cx="833.6" cy="262.8" r="2.4" fill="#e8b020"/><circle cx="833.3" cy="267.9" r="2.4" fill="#f020e0"/><circle cx="841.5" cy="260.5" r="2.4" fill="#6a4484"/><circle cx="843.2" cy="263.9" r="2.4" fill="#6a4484"/><circle cx="826.4" cy="273.2" r="2.4" fill="#101010"/><circle cx="826.1" cy="277.1" r="2.4" fill="#e01a1a"/><circle cx="826.4" cy="279.5" r="2.4" fill="#1212d4"/><circle cx="820.9" cy="279.5" r="2.4" fill="#e01a1a"/><circle cx="832.8" cy="281.1" r="2.4" fill="#6a4484"/><circle cx="836.7" cy="276.3" r="2.4" fill="#101010"/><circle cx="837.5" cy="278.7" r="2.4" fill="#1212d4"/><circle cx="837.5" cy="281.1" r="2.4" fill="#1212d4"/><circle cx="836.7" cy="285.0" r="2.4" fill="#6cc02a"/><circle cx="825.6" cy="285.8" r="2.4" fill="#6cc02a"/><circle cx="820.9" cy="287.4" r="2.4" fill="#6cc02a"/><circle cx="837.5" cy="289.8" r="2.4" fill="#6cc02a"/><circle cx="792.4" cy="283.5" r="2.4" fill="#6a4484"/><circle cx="806.6" cy="290.6" r="2.4" fill="#1212d4"/><circle cx="808.2" cy="289.8" r="2.4" fill="#1212d4"/><circle cx="813.8" cy="289.8" r="2.4" fill="#e0602a"/><circle cx="816.1" cy="292.2" r="2.4" fill="#1212d4"/><circle cx="820.9" cy="291.4" r="2.4" fill="#1212d4"/><circle cx="805.0" cy="295.3" r="2.4" fill="#6a4484"/><circle cx="804.3" cy="296.9" r="2.4" fill="#1212d4"/><circle cx="798.7" cy="294.5" r="2.4" fill="#1212d4"/><circle cx="798.7" cy="296.1" r="2.4" fill="#f020e0"/><circle cx="794.8" cy="298.5" r="2.4" fill="#1212d4"/><circle cx="795.5" cy="301.7" r="2.4" fill="#f020e0"/><circle cx="797.9" cy="299.3" r="2.4" fill="#1212d4"/><circle cx="813.0" cy="296.9" r="2.4" fill="#6cc02a"/><circle cx="817.7" cy="299.3" r="2.4" fill="#6cc02a"/><circle cx="804.3" cy="301.7" r="2.4" fill="#6cc02a"/><circle cx="795.5" cy="308.0" r="2.4" fill="#6cc02a"/><circle cx="828.0" cy="295.3" r="2.4" fill="#1212d4"/><circle cx="825.6" cy="297.7" r="2.4" fill="#6a4484"/><circle cx="839.9" cy="295.3" r="2.4" fill="#1212d4"/><circle cx="835.9" cy="299.3" r="2.4" fill="#6a4484"/><circle cx="838.3" cy="303.3" r="2.4" fill="#6a4484"/><circle cx="850.2" cy="298.5" r="2.4" fill="#1212d4"/><circle cx="851.8" cy="300.9" r="2.4" fill="#e01a1a"/><circle cx="848.6" cy="302.5" r="2.4" fill="#1212d4"/><circle cx="857.3" cy="303.3" r="2.4" fill="#1212d4"/><circle cx="849.4" cy="306.4" r="2.4" fill="#6cc02a"/><circle cx="845.4" cy="312.0" r="2.4" fill="#1212d4"/><circle cx="845.4" cy="314.3" r="2.4" fill="#e0602a"/><circle cx="855.0" cy="312.8" r="2.4" fill="#1212d4"/><circle cx="853.4" cy="316.7" r="2.4" fill="#e01a1a"/><circle cx="853.4" cy="319.9" r="2.4" fill="#1212d4"/><circle cx="845.4" cy="321.5" r="2.4" fill="#6cc02a"/><circle cx="853.4" cy="327.8" r="2.4" fill="#6cc02a"/><circle cx="828.0" cy="310.4" r="2.4" fill="#1212d4"/><circle cx="819.3" cy="313.6" r="2.4" fill="#6a4484"/><circle cx="809.0" cy="314.3" r="2.4" fill="#1212d4"/><circle cx="801.1" cy="315.9" r="2.4" fill="#e01a1a"/><circle cx="801.1" cy="318.3" r="2.4" fill="#1212d4"/><circle cx="828.0" cy="318.3" r="2.4" fill="#6cc02a"/><circle cx="831.2" cy="319.1" r="2.4" fill="#e01a1a"/><circle cx="831.2" cy="321.5" r="2.4" fill="#1212d4"/><circle cx="839.9" cy="318.3" r="2.4" fill="#6a4484"/><circle cx="809.8" cy="323.1" r="2.4" fill="#6cc02a"/><circle cx="801.1" cy="325.4" r="2.4" fill="#6cc02a"/><circle cx="802.7" cy="328.6" r="2.4" fill="#1212d4"/><circle cx="810.6" cy="327.8" r="2.4" fill="#1212d4"/><circle cx="831.2" cy="330.2" r="2.4" fill="#6cc02a"/><circle cx="801.9" cy="338.1" r="2.4" fill="#6cc02a"/><circle cx="866.6" cy="273.2" r="2.4" fill="#101010"/><circle cx="867.4" cy="275.5" r="2.4" fill="#e01a1a"/><circle cx="867.4" cy="277.9" r="2.4" fill="#1212d4"/><circle cx="868.2" cy="281.1" r="2.4" fill="#1212d4"/><circle cx="867.4" cy="285.8" r="2.4" fill="#6cc02a"/><circle cx="869.0" cy="289.0" r="2.4" fill="#6cc02a"/><circle cx="873.8" cy="274.8" r="2.4" fill="#1212d4"/><circle cx="873.8" cy="278.7" r="2.4" fill="#e01a1a"/><circle cx="873.8" cy="281.1" r="2.4" fill="#f020e0"/><circle cx="873.8" cy="284.3" r="2.4" fill="#6cc02a"/><circle cx="878.5" cy="270.8" r="2.4" fill="#6cc02a"/><circle cx="882.5" cy="270.8" r="2.4" fill="#101010"/><circle cx="881.7" cy="274.8" r="2.4" fill="#e01a1a"/><circle cx="881.7" cy="277.9" r="2.4" fill="#1212d4"/><circle cx="878.5" cy="277.1" r="2.4" fill="#e0602a"/><circle cx="878.5" cy="285.0" r="2.4" fill="#6a4484"/><circle cx="881.7" cy="281.9" r="2.4" fill="#6cc02a"/><circle cx="873.8" cy="295.3" r="2.4" fill="#6a4484"/><circle cx="882.5" cy="295.3" r="2.4" fill="#6a4484"/><circle cx="851.6" cy="298.5" r="2.4" fill="#1212d4"/><circle cx="851.6" cy="301.7" r="2.4" fill="#f020e0"/><circle cx="851.6" cy="307.2" r="2.4" fill="#6cc02a"/><circle cx="857.1" cy="303.3" r="2.4" fill="#1212d4"/><circle cx="861.1" cy="303.3" r="2.4" fill="#1212d4"/><circle cx="865.0" cy="301.7" r="2.4" fill="#1212d4"/><circle cx="866.6" cy="299.3" r="2.4" fill="#6a4484"/><circle cx="870.6" cy="304.1" r="2.4" fill="#1212d4"/><circle cx="871.4" cy="306.4" r="2.4" fill="#1212d4"/><circle cx="859.5" cy="308.0" r="2.4" fill="#e01a1a"/><circle cx="861.9" cy="310.4" r="2.4" fill="#1212d4"/><circle cx="865.0" cy="310.4" r="2.4" fill="#6cc02a"/><circle cx="854.8" cy="312.8" r="2.4" fill="#1212d4"/><circle cx="853.2" cy="316.7" r="2.4" fill="#e01a1a"/><circle cx="854.0" cy="319.1" r="2.4" fill="#1212d4"/><circle cx="870.6" cy="313.6" r="2.4" fill="#6cc02a"/><circle cx="859.5" cy="317.5" r="2.4" fill="#6cc02a"/><circle cx="861.9" cy="319.1" r="2.4" fill="#6cc02a"/><circle cx="854.8" cy="322.3" r="2.4" fill="#6cc02a"/><circle cx="853.2" cy="328.6" r="2.4" fill="#6cc02a"/><circle cx="890.4" cy="297.7" r="2.4" fill="#1212d4"/><circle cx="893.6" cy="298.5" r="2.4" fill="#e8b020"/><circle cx="892.0" cy="300.9" r="2.4" fill="#e8b020"/><circle cx="902.3" cy="285.8" r="2.4" fill="#101010"/><circle cx="906.2" cy="285.0" r="2.4" fill="#e01a1a"/><circle cx="905.4" cy="288.2" r="2.4" fill="#e0602a"/><circle cx="902.3" cy="294.5" r="2.4" fill="#6cc02a"/><circle cx="907.0" cy="295.3" r="2.4" fill="#e8b020"/><circle cx="909.4" cy="297.7" r="2.4" fill="#e8b020"/><circle cx="910.2" cy="299.3" r="2.4" fill="#e8b020"/><circle cx="907.8" cy="303.3" r="2.4" fill="#6cc02a"/><circle cx="897.5" cy="308.0" r="2.4" fill="#6a4484"/><circle cx="895.9" cy="311.2" r="2.4" fill="#6a4484"/><circle cx="894.3" cy="313.6" r="2.4" fill="#6a4484"/><circle cx="892.0" cy="315.9" r="2.4" fill="#6a4484"/><circle cx="890.4" cy="317.5" r="2.4" fill="#6a4484"/><circle cx="902.3" cy="307.2" r="2.4" fill="#6a4484"/><circle cx="903.8" cy="315.9" r="2.4" fill="#101010"/><circle cx="903.8" cy="319.1" r="2.4" fill="#e01a1a"/><circle cx="903.8" cy="321.3" r="2.4" fill="#e0602a"/><circle cx="903.8" cy="327.0" r="2.4" fill="#6cc02a"/><circle cx="907.8" cy="329.4" r="2.4" fill="#e01a1a"/><circle cx="916.5" cy="310.4" r="2.4" fill="#6a4484"/><circle cx="918.1" cy="308.0" r="2.4" fill="#6a4484"/><circle cx="887.5" cy="173.9" r="2.4" fill="#1212d4"/><circle cx="889.1" cy="177.4" r="2.4" fill="#1212d4"/><circle cx="887.5" cy="180.6" r="2.4" fill="#6cc02a"/><circle cx="889.1" cy="184.5" r="2.4" fill="#6cc02a"/><circle cx="887.5" cy="195.6" r="2.4" fill="#6a4484"/><circle cx="889.1" cy="197.7" r="2.4" fill="#6a4484"/><circle cx="875.3" cy="200.9" r="2.4" fill="#e01a1a"/><circle cx="880.3" cy="205.9" r="2.4" fill="#101010"/><circle cx="878.8" cy="206.7" r="2.4" fill="#101010"/><circle cx="875.6" cy="207.5" r="2.4" fill="#6cc02a"/><circle cx="877.2" cy="210.7" r="2.4" fill="#e01a1a"/><circle cx="880.3" cy="211.5" r="2.4" fill="#e01a1a"/><circle cx="877.2" cy="212.3" r="2.4" fill="#e0602a"/><circle cx="885.9" cy="208.3" r="2.4" fill="#e01a1a"/><circle cx="885.9" cy="213.8" r="2.4" fill="#6cc02a"/><circle cx="877.2" cy="218.6" r="2.4" fill="#6cc02a"/><circle cx="880.3" cy="218.9" r="2.4" fill="#6cc02a"/><circle cx="875.3" cy="224.1" r="2.4" fill="#6a4484"/><circle cx="885.9" cy="228.1" r="2.4" fill="#6a4484"/><circle cx="877.2" cy="231.9" r="2.4" fill="#6a4484"/><circle cx="880.3" cy="232.7" r="2.4" fill="#6a4484"/><circle cx="883.8" cy="237.1" r="2.4" fill="#1212d4"/><circle cx="883.8" cy="240.3" r="2.4" fill="#e0602a"/><circle cx="883.8" cy="242.2" r="2.4" fill="#e8b020"/><circle cx="883.8" cy="245.0" r="2.4" fill="#6cc02a"/><circle cx="878.8" cy="257.7" r="2.4" fill="#101010"/><circle cx="883.8" cy="258.8" r="2.4" fill="#6a4484"/><circle cx="878.8" cy="262.8" r="2.4" fill="#e01a1a"/><circle cx="878.8" cy="265.9" r="2.4" fill="#e0602a"/><circle cx="882.2" cy="270.4" r="2.4" fill="#101010"/><circle cx="878.8" cy="271.0" r="2.4" fill="#6cc02a"/><circle cx="882.2" cy="275.4" r="2.4" fill="#e01a1a"/><circle cx="882.2" cy="277.8" r="2.4" fill="#1212d4"/><circle cx="878.8" cy="277.8" r="2.4" fill="#e0602a"/><circle cx="882.7" cy="282.6" r="2.4" fill="#6cc02a"/><circle cx="878.8" cy="284.9" r="2.4" fill="#6a4484"/><circle cx="866.9" cy="273.1" r="2.4" fill="#101010"/><circle cx="866.9" cy="276.2" r="2.4" fill="#1212d4"/><circle cx="868.5" cy="280.2" r="2.4" fill="#1212d4"/><circle cx="874.0" cy="273.8" r="2.4" fill="#1212d4"/><circle cx="874.0" cy="277.0" r="2.4" fill="#f020e0"/><circle cx="873.7" cy="280.2" r="2.4" fill="#e01a1a"/><circle cx="873.7" cy="284.1" r="2.4" fill="#6cc02a"/><circle cx="866.9" cy="285.7" r="2.4" fill="#6cc02a"/><circle cx="868.5" cy="288.9" r="2.4" fill="#6cc02a"/><circle cx="900.8" cy="48.1" r="2.4" fill="#e01a1a"/><circle cx="900.8" cy="49.9" r="2.4" fill="#101010"/><circle cx="900.8" cy="53.8" r="2.4" fill="#6cc02a"/><circle cx="900.8" cy="65.8" r="2.4" fill="#6a4484"/><circle cx="899.1" cy="121.9" r="2.4" fill="#e01a1a"/><circle cx="899.1" cy="129.0" r="2.4" fill="#101010"/><circle cx="899.1" cy="130.6" r="2.4" fill="#6cc02a"/><circle cx="899.1" cy="141.2" r="2.4" fill="#6a4484"/><circle cx="905.0" cy="285.8" r="2.4" fill="#e01a1a"/><circle cx="906.6" cy="290.6" r="2.4" fill="#e0602a"/><circle cx="908.2" cy="295.3" r="2.4" fill="#e8b020"/><circle cx="909.8" cy="299.3" r="2.4" fill="#e8b020"/><circle cx="907.4" cy="303.3" r="2.4" fill="#6cc02a"/><circle cx="917.7" cy="285.0" r="2.4" fill="#1212d4"/><circle cx="919.3" cy="289.8" r="2.4" fill="#1212d4"/><circle cx="923.2" cy="287.4" r="2.4" fill="#e01a1a"/><circle cx="923.2" cy="291.4" r="2.4" fill="#e0602a"/><circle cx="915.3" cy="290.6" r="2.4" fill="#e01a1a"/><circle cx="914.5" cy="294.5" r="2.4" fill="#e01a1a"/><circle cx="916.9" cy="296.1" r="2.4" fill="#f020e0"/><circle cx="920.8" cy="298.5" r="2.4" fill="#6cc02a"/><circle cx="920.8" cy="303.3" r="2.4" fill="#101010"/><circle cx="919.3" cy="308.0" r="2.4" fill="#6a4484"/><circle cx="916.1" cy="311.2" r="2.4" fill="#6a4484"/><circle cx="920.8" cy="316.7" r="2.4" fill="#6cc02a"/><circle cx="905.0" cy="315.9" r="2.4" fill="#101010"/><circle cx="909.3" cy="369.4" r="2.4" fill="#1212d4"/><circle cx="914.1" cy="381.0" r="2.4" fill="#6a4484"/><circle cx="922.0" cy="311.3" r="2.4" fill="#6cc02a"/><circle cx="922.0" cy="307.4" r="2.4" fill="#f020e0"/><circle cx="922.0" cy="304.2" r="2.4" fill="#1212d4"/><circle cx="922.0" cy="302.2" r="2.4" fill="#1212d4"/><circle cx="923.5" cy="311.1" r="2.4" fill="#6cc02a"/><circle cx="923.5" cy="307.2" r="2.4" fill="#f020e0"/><circle cx="923.5" cy="304.8" r="2.4" fill="#1212d4"/><circle cx="923.5" cy="302.8" r="2.4" fill="#1212d4"/><circle cx="925.0" cy="311.0" r="2.4" fill="#6cc02a"/><circle cx="925.0" cy="306.6" r="2.4" fill="#f020e0"/><circle cx="925.0" cy="304.2" r="2.4" fill="#1212d4"/><circle cx="925.0" cy="302.2" r="2.4" fill="#1212d4"/><circle cx="926.5" cy="310.8" r="2.4" fill="#6cc02a"/><circle cx="926.5" cy="306.6" r="2.4" fill="#f020e0"/><circle cx="926.5" cy="303.3" r="2.4" fill="#1212d4"/><circle cx="926.5" cy="301.3" r="2.4" fill="#1212d4"/><circle cx="928.0" cy="311.2" r="2.4" fill="#6cc02a"/><circle cx="928.0" cy="306.0" r="2.4" fill="#f020e0"/><circle cx="928.0" cy="303.2" r="2.4" fill="#1212d4"/><circle cx="928.0" cy="301.2" r="2.4" fill="#1212d4"/><circle cx="929.5" cy="310.7" r="2.4" fill="#6cc02a"/><circle cx="929.5" cy="306.4" r="2.4" fill="#f020e0"/><circle cx="929.5" cy="304.1" r="2.4" fill="#1212d4"/><circle cx="929.5" cy="302.1" r="2.4" fill="#1212d4"/><circle cx="931.0" cy="311.0" r="2.4" fill="#6cc02a"/><circle cx="931.0" cy="305.4" r="2.4" fill="#f020e0"/><circle cx="931.0" cy="302.9" r="2.4" fill="#1212d4"/><circle cx="931.0" cy="300.9" r="2.4" fill="#1212d4"/><circle cx="932.5" cy="311.8" r="2.4" fill="#6cc02a"/><circle cx="932.5" cy="307.0" r="2.4" fill="#f020e0"/><circle cx="932.5" cy="303.8" r="2.4" fill="#1212d4"/><circle cx="932.5" cy="301.8" r="2.4" fill="#1212d4"/><circle cx="934.0" cy="310.5" r="2.4" fill="#6cc02a"/><circle cx="934.0" cy="305.5" r="2.4" fill="#e01a1a"/><circle cx="934.0" cy="305.2" r="2.4" fill="#f020e0"/><circle cx="934.0" cy="302.0" r="2.4" fill="#1212d4"/><circle cx="934.0" cy="300.0" r="2.4" fill="#1212d4"/><circle cx="935.5" cy="311.3" r="2.4" fill="#6cc02a"/><circle cx="935.5" cy="305.0" r="2.4" fill="#e01a1a"/><circle cx="935.5" cy="304.9" r="2.4" fill="#f020e0"/><circle cx="935.5" cy="302.5" r="2.4" fill="#1212d4"/><circle cx="935.5" cy="300.5" r="2.4" fill="#1212d4"/><circle cx="937.0" cy="311.7" r="2.4" fill="#6cc02a"/><circle cx="937.0" cy="306.7" r="2.4" fill="#e01a1a"/><circle cx="937.0" cy="306.4" r="2.4" fill="#f020e0"/><circle cx="937.0" cy="303.0" r="2.4" fill="#1212d4"/><circle cx="937.0" cy="301.0" r="2.4" fill="#1212d4"/><circle cx="938.5" cy="310.6" r="2.4" fill="#6cc02a"/><circle cx="938.5" cy="304.4" r="2.4" fill="#e01a1a"/><circle cx="938.5" cy="304.3" r="2.4" fill="#f020e0"/><circle cx="938.5" cy="301.7" r="2.4" fill="#1212d4"/><circle cx="938.5" cy="299.7" r="2.4" fill="#1212d4"/><circle cx="940.0" cy="311.9" r="2.4" fill="#6cc02a"/><circle cx="940.0" cy="305.7" r="2.4" fill="#e01a1a"/><circle cx="940.0" cy="305.0" r="2.4" fill="#f020e0"/><circle cx="940.0" cy="302.2" r="2.4" fill="#1212d4"/><circle cx="940.0" cy="300.2" r="2.4" fill="#1212d4"/><circle cx="941.5" cy="311.1" r="2.4" fill="#6cc02a"/><circle cx="941.5" cy="305.4" r="2.4" fill="#e01a1a"/><circle cx="941.5" cy="304.0" r="2.4" fill="#f020e0"/><circle cx="941.5" cy="302.1" r="2.4" fill="#1212d4"/><circle cx="941.5" cy="300.1" r="2.4" fill="#1212d4"/><circle cx="943.0" cy="310.8" r="2.4" fill="#6cc02a"/><circle cx="943.0" cy="305.7" r="2.4" fill="#e01a1a"/><circle cx="943.0" cy="304.8" r="2.4" fill="#f020e0"/><circle cx="943.0" cy="301.9" r="2.4" fill="#1212d4"/><circle cx="943.0" cy="299.9" r="2.4" fill="#1212d4"/><circle cx="944.5" cy="310.6" r="2.4" fill="#6cc02a"/><circle cx="944.5" cy="303.8" r="2.4" fill="#e01a1a"/><circle cx="944.5" cy="303.8" r="2.4" fill="#f020e0"/><circle cx="944.5" cy="301.0" r="2.4" fill="#1212d4"/><circle cx="944.5" cy="299.0" r="2.4" fill="#1212d4"/><circle cx="946.0" cy="310.6" r="2.4" fill="#6cc02a"/><circle cx="946.0" cy="304.1" r="2.4" fill="#e01a1a"/><circle cx="946.0" cy="304.2" r="2.4" fill="#f020e0"/><circle cx="946.0" cy="301.5" r="2.4" fill="#1212d4"/><circle cx="946.0" cy="299.5" r="2.4" fill="#1212d4"/><circle cx="947.5" cy="311.0" r="2.4" fill="#6cc02a"/><circle cx="947.5" cy="304.1" r="2.4" fill="#e01a1a"/><circle cx="947.5" cy="304.1" r="2.4" fill="#f020e0"/><circle cx="947.5" cy="301.3" r="2.4" fill="#1212d4"/><circle cx="947.5" cy="299.3" r="2.4" fill="#1212d4"/><circle cx="949.0" cy="310.9" r="2.4" fill="#6cc02a"/><circle cx="949.0" cy="303.6" r="2.4" fill="#e01a1a"/><circle cx="949.0" cy="300.4" r="2.4" fill="#1212d4"/><circle cx="949.0" cy="298.4" r="2.4" fill="#1212d4"/><circle cx="950.5" cy="311.4" r="2.4" fill="#6cc02a"/><circle cx="950.5" cy="305.7" r="2.4" fill="#e01a1a"/><circle cx="950.5" cy="301.9" r="2.4" fill="#1212d4"/><circle cx="950.5" cy="299.9" r="2.4" fill="#1212d4"/><circle cx="952.0" cy="310.8" r="2.4" fill="#6cc02a"/><circle cx="952.0" cy="304.0" r="2.4" fill="#e01a1a"/><circle cx="952.0" cy="301.2" r="2.4" fill="#1212d4"/><circle cx="952.0" cy="299.2" r="2.4" fill="#1212d4"/><circle cx="953.5" cy="311.5" r="2.4" fill="#6cc02a"/><circle cx="953.5" cy="305.3" r="2.4" fill="#e01a1a"/><circle cx="953.5" cy="302.3" r="2.4" fill="#1212d4"/><circle cx="953.5" cy="300.3" r="2.4" fill="#1212d4"/><circle cx="955.0" cy="311.2" r="2.4" fill="#6cc02a"/><circle cx="955.0" cy="304.7" r="2.4" fill="#e01a1a"/><circle cx="955.0" cy="301.2" r="2.4" fill="#1212d4"/><circle cx="955.0" cy="299.2" r="2.4" fill="#1212d4"/><circle cx="956.5" cy="310.8" r="2.4" fill="#6cc02a"/><circle cx="956.5" cy="305.7" r="2.4" fill="#e01a1a"/><circle cx="956.5" cy="302.3" r="2.4" fill="#1212d4"/><circle cx="956.5" cy="300.3" r="2.4" fill="#1212d4"/><circle cx="958.0" cy="310.8" r="2.4" fill="#6cc02a"/><circle cx="958.0" cy="306.0" r="2.4" fill="#e01a1a"/><circle cx="958.0" cy="303.5" r="2.4" fill="#1212d4"/><circle cx="958.0" cy="301.5" r="2.4" fill="#1212d4"/><circle cx="926.0" cy="315.0" r="2.4" fill="#6cc02a"/><circle cx="936.0" cy="313.5" r="2.4" fill="#6cc02a"/><circle cx="924.0" cy="317.5" r="2.4" fill="#6cc02a"/><circle cx="750.8" cy="270.7" r="2.4" fill="#101010"/><circle cx="758.0" cy="271.6" r="2.4" fill="#101010"/><circle cx="751.7" cy="273.5" r="2.4" fill="#e01a1a"/><circle cx="759.8" cy="272.5" r="2.4" fill="#e01a1a"/><circle cx="751.7" cy="276.2" r="2.4" fill="#1212d4"/><circle cx="753.5" cy="278.0" r="2.4" fill="#1212d4"/><circle cx="757.0" cy="275.3" r="2.4" fill="#1212d4"/><circle cx="760.7" cy="274.4" r="2.4" fill="#1212d4"/><circle cx="761.6" cy="277.0" r="2.4" fill="#1212d4"/><circle cx="758.9" cy="279.8" r="2.4" fill="#1212d4"/><circle cx="756.2" cy="278.9" r="2.4" fill="#6a4484"/><circle cx="749.9" cy="283.4" r="2.4" fill="#6cc02a"/><circle cx="753.5" cy="286.1" r="2.4" fill="#6cc02a"/><circle cx="755.3" cy="288.0" r="2.4" fill="#6cc02a"/><circle cx="758.9" cy="284.3" r="2.4" fill="#6cc02a"/><circle cx="759.8" cy="282.5" r="2.4" fill="#f020e0"/><circle cx="760.7" cy="286.1" r="2.4" fill="#f020e0"/><circle cx="784.2" cy="257.2" r="2.4" fill="#1212d4"/><circle cx="786.0" cy="253.6" r="2.4" fill="#1212d4"/><circle cx="788.8" cy="252.7" r="2.4" fill="#6a4484"/><circle cx="790.6" cy="252.7" r="2.4" fill="#6a4484"/><circle cx="792.4" cy="259.9" r="2.4" fill="#1212d4"/><circle cx="792.4" cy="263.5" r="2.4" fill="#f020e0"/><circle cx="792.4" cy="267.1" r="2.4" fill="#6cc02a"/><circle cx="784.2" cy="263.5" r="2.4" fill="#f020e0"/><circle cx="785.2" cy="265.3" r="2.4" fill="#f020e0"/><circle cx="778.8" cy="268.0" r="2.4" fill="#e0602a"/><circle cx="778.8" cy="271.6" r="2.4" fill="#1212d4"/><circle cx="780.6" cy="274.4" r="2.4" fill="#1212d4"/><circle cx="782.4" cy="278.0" r="2.4" fill="#1212d4"/><circle cx="784.2" cy="278.9" r="2.4" fill="#6a4484"/><circle cx="787.0" cy="277.0" r="2.4" fill="#6a4484"/><circle cx="778.8" cy="278.0" r="2.4" fill="#6cc02a"/><circle cx="781.5" cy="280.7" r="2.4" fill="#6cc02a"/><circle cx="782.4" cy="286.1" r="2.4" fill="#6cc02a"/><circle cx="782.4" cy="289.7" r="2.4" fill="#f020e0"/><circle cx="792.4" cy="283.4" r="2.4" fill="#6a4484"/><circle cx="733.6" cy="295.2" r="2.4" fill="#1212d4"/><circle cx="730.9" cy="303.3" r="2.4" fill="#1212d4"/><circle cx="731.8" cy="311.4" r="2.4" fill="#1212d4"/><circle cx="738.1" cy="302.4" r="2.4" fill="#1212d4"/><circle cx="743.6" cy="304.5" r="2.4" fill="#e01a1a"/><circle cx="743.6" cy="303.3" r="2.4" fill="#101010"/><circle cx="740.8" cy="308.8" r="2.4" fill="#1212d4"/><circle cx="743.6" cy="309.7" r="2.4" fill="#1212d4"/><circle cx="746.3" cy="307.8" r="2.4" fill="#1212d4"/><circle cx="740.0" cy="313.3" r="2.4" fill="#6cc02a"/><circle cx="744.5" cy="315.1" r="2.4" fill="#6cc02a"/><circle cx="748.1" cy="307.8" r="2.4" fill="#6cc02a"/><circle cx="749.0" cy="302.4" r="2.4" fill="#6a4484"/><circle cx="752.6" cy="300.6" r="2.4" fill="#6a4484"/><circle cx="756.2" cy="298.8" r="2.4" fill="#6a4484"/><circle cx="759.8" cy="298.8" r="2.4" fill="#6a4484"/><circle cx="761.6" cy="302.4" r="2.4" fill="#6a4484"/><circle cx="763.5" cy="297.9" r="2.4" fill="#6a4484"/><circle cx="764.4" cy="305.1" r="2.4" fill="#1212d4"/><circle cx="766.2" cy="307.8" r="2.4" fill="#1212d4"/><circle cx="768.9" cy="306.9" r="2.4" fill="#1212d4"/><circle cx="771.6" cy="306.0" r="2.4" fill="#1212d4"/><circle cx="773.4" cy="298.8" r="2.4" fill="#101010"/><circle cx="775.2" cy="301.5" r="2.4" fill="#1212d4"/><circle cx="774.3" cy="297.0" r="2.4" fill="#6a4484"/><circle cx="777.0" cy="302.4" r="2.4" fill="#1212d4"/><circle cx="776.1" cy="306.9" r="2.4" fill="#f020e0"/><circle cx="777.9" cy="310.5" r="2.4" fill="#f020e0"/><circle cx="778.8" cy="297.0" r="2.4" fill="#6a4484"/><circle cx="781.5" cy="299.7" r="2.4" fill="#6a4484"/><circle cx="782.4" cy="302.4" r="2.4" fill="#6a4484"/><circle cx="765.3" cy="313.3" r="2.4" fill="#6cc02a"/><circle cx="768.9" cy="314.2" r="2.4" fill="#6cc02a"/><circle cx="762.5" cy="313.3" r="2.4" fill="#6cc02a"/><circle cx="794.2" cy="299.7" r="2.4" fill="#1212d4"/><circle cx="796.9" cy="296.1" r="2.4" fill="#1212d4"/><circle cx="794.2" cy="304.2" r="2.4" fill="#f020e0"/><circle cx="795.1" cy="307.8" r="2.4" fill="#6cc02a"/><circle cx="797.8" cy="299.7" r="2.4" fill="#1212d4"/></g>
<rect x="502.0" y="13.6" width="506.70" height="370.90" fill="none" stroke="#111" stroke-width="2"/>
<g stroke="#111" stroke-width="2">
<line x1="502.00" y1="384.5" x2="502.00" y2="379.5"/><line x1="502.00" y1="13.6" x2="502.00" y2="18.6"/>
<line x1="586.45" y1="384.5" x2="586.45" y2="379.5"/><line x1="586.45" y1="13.6" x2="586.45" y2="18.6"/>
<line x1="670.90" y1="384.5" x2="670.90" y2="379.5"/><line x1="670.90" y1="13.6" x2="670.90" y2="18.6"/>
<line x1="755.35" y1="384.5" x2="755.35" y2="379.5"/><line x1="755.35" y1="13.6" x2="755.35" y2="18.6"/>
<line x1="839.80" y1="384.5" x2="839.80" y2="379.5"/><line x1="839.80" y1="13.6" x2="839.80" y2="18.6"/>
<line x1="924.25" y1="384.5" x2="924.25" y2="379.5"/><line x1="924.25" y1="13.6" x2="924.25" y2="18.6"/>
<line x1="1008.70" y1="384.5" x2="1008.70" y2="379.5"/><line x1="1008.70" y1="13.6" x2="1008.70" y2="18.6"/>
<line x1="502.0" y1="384.50" x2="507.0" y2="384.50"/><line x1="1008.7" y1="384.50" x2="1003.7" y2="384.50"/>
<line x1="502.0" y1="343.29" x2="507.0" y2="343.29"/><line x1="1008.7" y1="343.29" x2="1003.7" y2="343.29"/>
<line x1="502.0" y1="302.08" x2="507.0" y2="302.08"/><line x1="1008.7" y1="302.08" x2="1003.7" y2="302.08"/>
<line x1="502.0" y1="260.87" x2="507.0" y2="260.87"/><line x1="1008.7" y1="260.87" x2="1003.7" y2="260.87"/>
<line x1="502.0" y1="219.66" x2="507.0" y2="219.66"/><line x1="1008.7" y1="219.66" x2="1003.7" y2="219.66"/>
<line x1="502.0" y1="178.44" x2="507.0" y2="178.44"/><line x1="1008.7" y1="178.44" x2="1003.7" y2="178.44"/>
<line x1="502.0" y1="137.23" x2="507.0" y2="137.23"/><line x1="1008.7" y1="137.23" x2="1003.7" y2="137.23"/>
<line x1="502.0" y1="96.02" x2="507.0" y2="96.02"/><line x1="1008.7" y1="96.02" x2="1003.7" y2="96.02"/>
<line x1="502.0" y1="54.81" x2="507.0" y2="54.81"/><line x1="1008.7" y1="54.81" x2="1003.7" y2="54.81"/>
<line x1="502.0" y1="13.60" x2="507.0" y2="13.60"/><line x1="1008.7" y1="13.60" x2="1003.7" y2="13.60"/>
</g>
<g font-family="Liberation Sans, Arial, sans-serif" font-size="18" fill="#111">
<text x="494.2" y="391.50" text-anchor="end">-20</text>
<text x="494.2" y="350.29" text-anchor="end">-10</text>
<text x="494.2" y="309.08" text-anchor="end">0</text>
<text x="494.2" y="267.87" text-anchor="end">10</text>
<text x="494.2" y="226.66" text-anchor="end">20</text>
<text x="494.2" y="185.44" text-anchor="end">30</text>
<text x="494.2" y="144.23" text-anchor="end">40</text>
<text x="494.2" y="103.02" text-anchor="end">50</text>
<text x="494.2" y="61.81" text-anchor="end">60</text>
<text x="494.2" y="20.60" text-anchor="end">70</text>
<text x="502.00" y="412" text-anchor="middle">0</text>
<text x="586.45" y="412" text-anchor="middle">50</text>
<text x="670.90" y="412" text-anchor="middle">100</text>
<text x="755.35" y="412" text-anchor="middle">150</text>
<text x="839.80" y="412" text-anchor="middle">200</text>
<text x="924.25" y="412" text-anchor="middle">250</text>
<text x="1008.70" y="412" text-anchor="middle">300</text>
</g>
<text x="755.3" y="438.6" font-family="Liberation Sans, Arial, sans-serif" font-size="20.4" fill="#111" text-anchor="middle">time/s</text>
<text transform="translate(457.6,199.3) rotate(-90)" font-family="Liberation Sans, Arial, sans-serif" font-size="21.2" fill="#111" text-anchor="middle">residual/m</text>
<rect x="532.6" y="40.6" width="184" height="94" fill="#fff" stroke="#111" stroke-width="1.6"/>
<g font-family="Liberation Sans, Arial, sans-serif" font-size="16.6" fill="#111">
<circle cx="560.3" cy="54.0" r="2.2" fill="#000000"/>
<text x="587.2" y="60.2">G03</text>
<circle cx="560.3" cy="76.6" r="2.2" fill="#504064"/>
<text x="587.2" y="82.8">G16</text>
<circle cx="560.3" cy="99.2" r="2.2" fill="#58a438"/>
<text x="587.2" y="105.4">G22</text>
<circle cx="560.3" cy="121.8" r="2.2" fill="#b85038"/>
<text x="587.2" y="128.0">G25</text>
<circle cx="652.2" cy="54.0" r="2.2" fill="#c8a040"/>
<text x="680.0" y="60.2">G26</text>
<circle cx="652.2" cy="76.6" r="2.2" fill="#d020d0"/>
<text x="680.0" y="82.8">G29</text>
<circle cx="652.2" cy="99.2" r="2.2" fill="#b81020"/>
<text x="680.0" y="105.4">G31</text>
<circle cx="652.2" cy="121.8" r="2.2" fill="#1010d0"/>
<text x="680.0" y="128.0">G32</text>
</g>
<g fill="none" stroke="#a81414" stroke-width="2.2">
<rect x="563.3" y="316.0" width="41.5" height="43.9"/>
<rect x="639.6" y="319.0" width="42.2" height="44.2"/>
<rect x="811.5" y="338.5" width="41.3" height="43.7"/>
<rect x="861.3" y="338.5" width="40.9" height="43.7"/>
</g>
<g font-family="Liberation Serif, Times New Roman, serif" font-weight="bold" font-size="27" fill="#a81414" text-anchor="middle">
<text x="581.4" y="347.7">a</text><text x="659.0" y="351">b</text><text x="828.7" y="369.9">c</text><text x="879.8" y="369.9">d</text>
</g>
</svg></body></html>
